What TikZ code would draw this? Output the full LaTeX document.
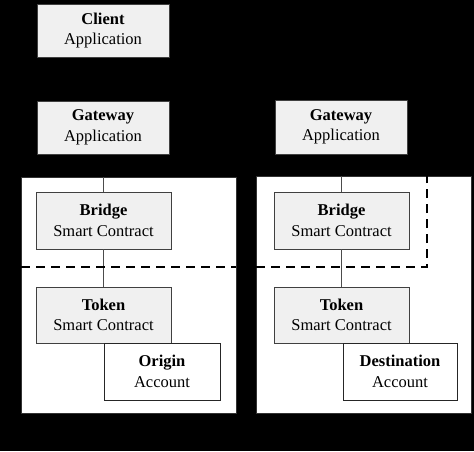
\documentclass[tikz,border=0pt]{standalone}
\usepackage{fontspec}
\setmainfont{Liberation Serif}
\begin{document}
\begin{tikzpicture}[x=1pt,y=-1pt,
  comp/.style={draw=black!75, line width=0.8pt, fill=black!6, align=center, inner sep=0pt,
     font=\fontsize{16.5}{20.5}\selectfont},
  acct/.style={draw=black!85, line width=0.8pt, fill=white, align=center, inner sep=0pt,
     font=\fontsize{16.5}{20.5}\selectfont},
  chain/.style={draw=black!80, line width=0.6pt, fill=white},
  link/.style={draw=black!70, line width=0.8pt},
  sep/.style={draw=black, line width=1.8pt, dash pattern=on 9pt off 6pt}]
\fill[black] (0,0) rectangle (474,451);
\useasboundingbox (0,0) rectangle (474,451);
% containers
\path[chain] (21,177) rectangle (236,413);
\path[chain] (256,176) rectangle (471,413);
\coordinate (topL) at (103.5,177);
\coordinate (topR) at (341.5,176);
% nodes
\node[comp, minimum width=132, minimum height=53] (client) at (103,30.5) {\textbf{Client}\\Application};
\node[comp, minimum width=132, minimum height=53] (gwL) at (103,127.5) {\textbf{Gateway}\\Application};
\node[comp, minimum width=132, minimum height=54] (gwR) at (341,127) {\textbf{Gateway}\\Application};
\node[comp, minimum width=135, minimum height=57] (brL) at (103.5,220.5) {\textbf{Bridge}\\Smart Contract};
\node[comp, minimum width=135, minimum height=57] (brR) at (341.5,220.5) {\textbf{Bridge}\\Smart Contract};
\node[comp, minimum width=135, minimum height=56] (tkL) at (103.5,315) {\textbf{Token}\\Smart Contract};
\node[comp, minimum width=135, minimum height=56] (tkR) at (341.5,315) {\textbf{Token}\\Smart Contract};
\node[acct, minimum width=116, minimum height=57] (orig) at (162,371.5) {\textbf{Origin}\\Account};
\node[acct, minimum width=114, minimum height=57] (dest) at (400,371.5) {\textbf{Destination}\\Account};
% connectors
\draw[link] (topL) -- (brL.north);
\draw[link] (brL.south) -- (tkL.north);
\draw[link] (topR) -- (brR.north);
\draw[link] (brR.south) -- (tkR.north);
% separators
\draw[sep] (21,267) -- (236,267);
\draw[sep] (256,267) -- (427,267) -- (427,176);
\end{tikzpicture}
\end{document}
